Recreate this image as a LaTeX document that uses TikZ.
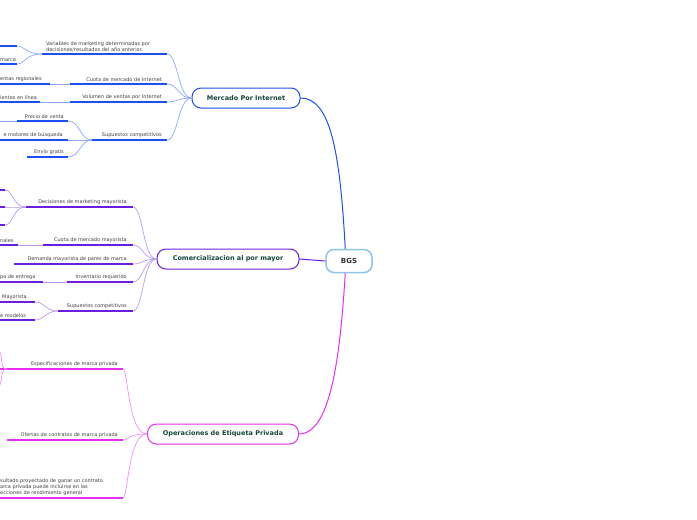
\documentclass[tikz,border=0pt]{standalone}
\usepackage{fontspec}
\setmainfont{DejaVu Sans}
\begin{document}
\begin{tikzpicture}[x=1pt,y=-1pt,
  lbl/.style={font=\fontsize{5}{6}\selectfont,text=black!75,inner sep=0pt,anchor=south east},
  lblw/.style={font=\fontsize{5}{6}\selectfont,text=black!75,inner sep=0pt,anchor=south west},
  br/.style={draw=#1,line width=1pt,rounded corners=9pt,fill=white,minimum height=20pt,font=\fontsize{6.5}{8}\bfseries,text={rgb,255:red,20;green,70;blue,60}},
  ul/.style={line width=1.6pt,draw=#1},
  cn/.style={line width=0.7pt,draw=#1}]
\definecolor{bl}{RGB}{29,79,245}\definecolor{bll}{RGB}{140,168,255}
\definecolor{pu}{RGB}{107,30,224}\definecolor{pul}{RGB}{185,155,240}
\definecolor{mg}{RGB}{229,46,240}\definecolor{mgl}{RGB}{242,142,246}
\definecolor{rt}{RGB}{143,196,232}
\useasboundingbox (0,0) rectangle (697,520);
% root and branches
\node[draw=rt,line width=1.5pt,rounded corners=8pt,minimum width=46pt,minimum height=23pt,font=\fontsize{7}{8}\bfseries,text=black!80] (bgs) at (349,261) {BGS};
\node[br=bl,minimum width=108pt] (mi) at (246,98) {Mercado Por Internet};
\node[br=pu,minimum width=142pt] (cm) at (228,259) {Comercializacion al por mayor};
\node[br=mg,minimum width=151pt] (op) at (223,434) {Operaciones de Etiqueta Privada};
\draw[cn=bl,line width=1pt] (bgs.north west) ++(20,0) .. controls (340,150) and (330,98) .. (mi.east);
\draw[cn=pu,line width=1pt] (bgs.west) -- (cm.east);
\draw[cn=mg,line width=1pt] (bgs.south west) ++(20,0) .. controls (340,360) and (330,434) .. (op.east);
% ---- Mercado
\foreach \n/\y/\x in {m1/54/42,m2/84/70,m3/102/70,m4/140/92}{
  \coordinate (\n) at (167,\y); \coordinate (\n w) at (\x,\y);
  \draw[ul=bl] (\n w) -- (\n);
  \draw[cn=bll] (mi.west) .. controls (178,98) and (178,\y) .. (\n);}
\node[lblw,align=left] at (46,52) {Variables de marketing determinadas por\\decisiones/resultados del año anterior.};
\node[lbl] at (162,82) {Cuota de mercado de Internet};
\node[lbl] at (162,100) {Volumen de ventas por Internet};
\node[lbl] at (162,138) {Supuestos competitivos};
\draw[ul=bl] (0,46) -- (17,46); \draw[ul=bl] (0,64) -- (17,64);
\node[lblw] at (0,62) {marca};
\draw[cn=bll] (m1w) .. controls (25,54) and (25,46) .. (17,46);
\draw[cn=bll] (m1w) .. controls (25,54) and (25,64) .. (17,64);
\draw[ul=bl] (0,84) -- (50,84); \draw[cn=bll] (50,84) -- (m2w); \node[lblw] at (0,82) {entas regionales};
\draw[ul=bl] (0,102) -- (40,102); \draw[cn=bll] (40,102) -- (m3w); \node[lblw] at (0,100) {ientes en línea};
\draw[ul=bl] (17,121) -- (68,121); \draw[cn=bll] (0,121) -- (17,121); \node[lbl] at (64,119) {Precio de venta};
\draw[ul=bl] (0,140) -- (68,140); \node[lbl] at (63,138) {e motores de búsqueda};
\draw[ul=bl] (27,157) -- (68,157); \node[lbl] at (64,155) {Envío gratis};
\foreach \y in {121,140,157}{\draw[cn=bll] (m4w) .. controls (80,140) and (80,\y) .. (68,\y);}
% ---- Comercializacion
\foreach \n/\y/\x in {c1/207/26,c2/245/43,c3/264/14,c4/282/67,c5/311/58}{
  \coordinate (\n) at (133,\y); \coordinate (\n w) at (\x,\y);
  \draw[ul=pu] (\n w) -- (\n);
  \draw[cn=pul] (cm.west) .. controls (143,259) and (143,\y) .. (\n);}
\node[lbl] at (127,205) {Decisiones de marketing mayorista};
\node[lbl] at (127,243) {Cuota de mercado mayorista};
\node[lbl] at (127,262) {Demanda mayorista de pares de marca};
\node[lbl] at (127,280) {Inventario requerido};
\node[lbl] at (127,309) {Supuestos competitivos};
\foreach \y in {190,207,225}{\draw[ul=pu] (0,\y) -- (5,\y); \draw[cn=pul] (c1w) .. controls (13,207) and (13,\y) .. (5,\y);}
\draw[ul=pu] (0,245) -- (18,245); \draw[cn=pul] (18,245) -- (c2w); \node[lblw] at (0,243) {nales};
\draw[ul=pu] (0,282) -- (43,282); \draw[cn=pul] (43,282) -- (c4w); \node[lblw] at (0,280) {po de entrega};
\draw[ul=pu] (0,302) -- (35,302); \node[lblw] at (2,300) {Mayorista};
\draw[ul=pu] (0,320) -- (35,320); \node[lblw] at (0,318) {e modelos};
\foreach \y in {302,320}{\draw[cn=pul] (c5w) .. controls (45,311) and (45,\y) .. (35,\y);}
% ---- Operaciones
\foreach \n/\y/\x in {o1/369/7,o2/440/7,o3/498/0}{
  \coordinate (\n) at (123,\y); \coordinate (\n w) at (\x,\y);
  \draw[ul=mg] (\n w) -- (\n);
  \draw[cn=mgl] (op.west) .. controls (128,434) and (128,\y) .. (\n);}
\node[lbl] at (118,367) {Especificaciones de marca privada};
\node[lbl] at (118,438) {Ofertas de contratos de marca privada};
\node[lblw,align=left] at (0,496) {sultado proyectado de ganar un contrato\\arca privada puede incluirse en las\\ecciones de rendimiento general};
\draw[ul=mg] (0,369) -- (7,369);
\draw[cn=mgl] (o1w) .. controls (0,369) and (3,360) .. (0,352);
\draw[cn=mgl] (o1w) .. controls (0,369) and (3,378) .. (0,385);
\end{tikzpicture}
\end{document}
